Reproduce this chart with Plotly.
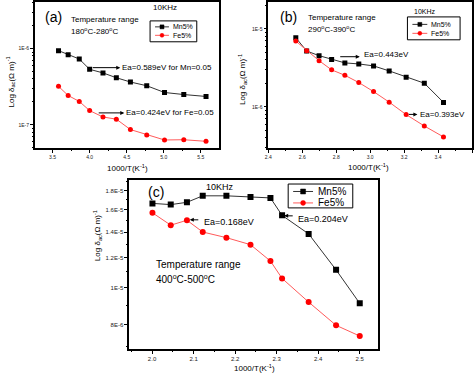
import plotly.graph_objects as go

# ---------------- data ----------------
a_x = [3.58, 3.71, 3.86, 4.00, 4.18, 4.36, 4.55, 4.77, 5.01, 5.27, 5.57]
a_mn = [9.4e-7, 8.3e-7, 7.3e-7, 5.35e-7, 4.8e-7, 4.15e-7, 3.65e-7, 3.26e-7, 2.66e-7, 2.5e-7, 2.36e-7]
a_fe = [3.2e-7, 2.43e-7, 2.03e-7, 1.54e-7, 1.27e-7, 1.19e-7, 8.7e-8, 7.4e-8, 6.35e-8, 6.4e-8, 6.1e-8]

b_x = [2.562, 2.626, 2.699, 2.773, 2.851, 2.933, 3.020, 3.112, 3.212, 3.319, 3.432]
b_mn = [7.68e-6, 5.2e-6, 4.53e-6, 4.06e-6, 3.66e-6, 3.55e-6, 3.35e-6, 2.89e-6, 2.40e-6, 2.01e-6, 1.14e-6]
b_fe = [6.97e-6, 5.25e-6, 3.91e-6, 2.98e-6, 2.54e-6, 2.05e-6, 1.57e-6, 1.15e-6, 7.96e-7, 5.69e-7, 4.12e-7]

c_x = [2.001, 2.045, 2.084, 2.122, 2.179, 2.237, 2.285, 2.313, 2.377, 2.443, 2.500]
c_mn = [1.664e-5, 1.652e-5, 1.675e-5, 1.742e-5, 1.742e-5, 1.73e-5, 1.72e-5, 1.548e-5, 1.384e-5, 1.114e-5, 9.1e-6]
c_fe = [1.572e-5, 1.459e-5, 1.503e-5, 1.40e-5, 1.353e-5, 1.297e-5, 1.175e-5, 1.058e-5, 9.17e-6, 7.97e-6, 7.47e-6]

series_names = ["Mn5%", "Fe5%"]
a_xticks = [3.5, 4.0, 4.5, 5.0, 5.5]
a_xticklabels = ["3.5", "4.0", "4.5", "5.0", "5.5"]
b_xticks = [2.4, 2.6, 2.8, 3.0, 3.2, 3.4, 3.6]
b_xticklabels = ["2.4", "2.6", "2.8", "3.0", "3.2", "3.4", "3.6"]
c_xticks = [2.0, 2.1, 2.2, 2.3, 2.4, 2.5]
c_xticklabels = ["2.0", "2.1", "2.2", "2.3", "2.4", "2.5"]
a_yticks = [1e-7, 1e-6]
a_yticklabels = ["1E-7", "1E-6"]
b_yticks = [1e-6, 1e-5]
b_yticklabels = ["1E-6", "1E-5"]
c_yticks = [8e-6, 1e-5, 1.2e-5, 1.4e-5, 1.6e-5, 1.8e-5]
c_yticklabels = ["8E-6", "1E-5", "1.2E-5", "1.4E-5", "1.6E-5", "1.8E-5"]

W, H = 474, 375
FONT = "Liberation Sans, Arial, sans-serif"
MN_LINE = "#333333"
MN_MARK = "#000000"
FE_LINE = "#ff5a5a"
FE_MARK = "#ff0000"


def px(x):
    return x / W


def py(y):
    return 1 - y / H


fig = go.Figure()

panels = [
    ("x", "y", a_x, a_mn, a_fe, 5),
    ("x2", "y2", b_x, b_mn, b_fe, 5),
    ("x3", "y3", c_x, c_mn, c_fe, 6),
]
for xa, ya, xs, mn, fe, ms in panels:
    fig.add_trace(go.Scatter(x=xs, y=mn, xaxis=xa, yaxis=ya, name=series_names[0],
                             mode="lines+markers", showlegend=False,
                             line=dict(color=MN_LINE, width=1),
                             marker=dict(symbol="square", size=ms, color=MN_MARK)))
    fig.add_trace(go.Scatter(x=xs, y=fe, xaxis=xa, yaxis=ya, name=series_names[1],
                             mode="lines+markers", showlegend=False,
                             line=dict(color=FE_LINE, width=1),
                             marker=dict(symbol="circle", size=ms, color=FE_MARK)))

axis_common = dict(showgrid=False, zeroline=False, showline=True, linecolor="black",
                   linewidth=1.5, mirror=True, ticks="outside", ticklen=3, tickwidth=1,
                   tickcolor="black", tickfont=dict(family=FONT, size=5, color="#222"))


def minor_lin(step):
    return dict(dtick=step, ticks="outside", ticklen=1.5, tickcolor="black", showgrid=False)


def log_minor(decades):
    vals = []
    for d in decades:
        for k in range(2, 10):
            vals.append(k * 10 ** d)
    return dict(tickmode="array", tickvals=vals, ticks="outside", ticklen=1.5,
                tickcolor="black", showgrid=False)


fig.update_layout(
    width=W, height=H,
    margin=dict(l=0, r=0, t=0, b=0),
    paper_bgcolor="white", plot_bgcolor="white",
    font=dict(family=FONT, color="black"),
    showlegend=False,
    xaxis=dict(axis_common, domain=[px(32), px(217)], range=[3.26, 5.74],
               tickvals=a_xticks, ticktext=a_xticklabels, anchor="y", minor=minor_lin(0.25)),
    yaxis=dict(axis_common, domain=[py(147), 1.0], type="log", range=[-7.305, -5.39],
               tickvals=a_yticks, ticktext=a_yticklabels, anchor="x",
               minor=log_minor([-8, -7, -6])),
    xaxis2=dict(axis_common, domain=[px(267), px(472)], range=[2.4, 3.6],
                tickvals=b_xticks, ticktext=b_xticklabels, anchor="y2", minor=minor_lin(0.1)),
    yaxis2=dict(axis_common, domain=[py(147), 1.0], type="log", range=[-6.53, -4.656],
                tickvals=b_yticks, ticktext=b_yticklabels, anchor="x2",
                minor=log_minor([-7, -6, -5])),
    xaxis3=dict(axis_common, domain=[px(127), px(377)], range=[1.945, 2.543],
                tickvals=c_xticks, ticktext=c_xticklabels, anchor="y3", minor=minor_lin(0.05),
                tickfont=dict(family=FONT, size=6, color="#222")),
    yaxis3=dict(axis_common, domain=[py(349), py(179)], type="log", range=[-5.161, -4.7176],
                tickvals=c_yticks, ticktext=c_yticklabels, anchor="x3",
                minor=dict(tickmode="array",
                           tickvals=[7e-6, 9e-6, 1.1e-5, 1.3e-5, 1.5e-5, 1.7e-5, 1.9e-5],
                           ticks="outside", ticklen=1.5, tickcolor="black", showgrid=False),
                tickfont=dict(family=FONT, size=6, color="#222")),
)

ylab = "Log δ<sub>ac</sub>(Ω m)<sup>-1</sup>"
xlab = "1000/T(K<sup>-1</sup>)"


def text(x, y, s, size=8, xanchor="left", angle=0):
    fig.add_annotation(x=px(x), y=py(y), xref="paper", yref="paper", text=s, showarrow=False,
                       xanchor=xanchor, yanchor="middle", textangle=angle,
                       font=dict(family=FONT, size=size, color="black"))


def arrow(x0, y0, x1, y1, color="black"):
    # arrow from (x0, y0) to head at (x1, y1), pixel coordinates
    fig.add_annotation(x=px(x1), y=py(y1), xref="paper", yref="paper",
                       ax=x0 - x1, ay=y0 - y1, axref="pixel", ayref="pixel",
                       text="", showarrow=True, arrowhead=2, arrowsize=0.8,
                       arrowwidth=1, arrowcolor=color)


def legend_box(x0, y0, x1, y1, rows, lx0, lx1, tx, size, msize):
    """Legend key drawn in paper space (pixel positions converted)."""
    fig.add_shape(type="rect", xref="paper", yref="paper",
                  x0=px(x0), x1=px(x1), y0=py(y0), y1=py(y1),
                  line=dict(color="black", width=1), fillcolor="white", layer="above")
    styles = [(MN_LINE, MN_MARK, "rect"), (FE_LINE, FE_MARK, "circle")]
    for (ry, name), (lc, mc, shp) in zip(zip(rows, series_names), styles):
        fig.add_shape(type="line", xref="paper", yref="paper",
                      x0=px(lx0), x1=px(lx1), y0=py(ry), y1=py(ry),
                      line=dict(color=lc, width=1), layer="above")
        cx = (lx0 + lx1) / 2
        h = msize / 2
        fig.add_shape(type=shp, xref="paper", yref="paper",
                      x0=px(cx - h), x1=px(cx + h), y0=py(ry - h), y1=py(ry + h),
                      line=dict(color=mc, width=0.5), fillcolor=mc, layer="above")
        text(tx, ry, name, size=size)


# axis titles
text(125, 167, xlab, size=8, xanchor="center")
text(8, 80, ylab, size=8, xanchor="center", angle=-90)
text(368, 166, xlab, size=8, xanchor="center")
text(241, 78, ylab, size=8, xanchor="center", angle=-90)
text(253, 368, xlab, size=8, xanchor="center")
text(95, 235, ylab, size=8, xanchor="center", angle=-90)

# panel (a)
text(40, 15, "(a)", size=14)
text(66, 18, "Temperature range", size=8)
text(66, 29, "180<sup>o</sup>C-280<sup>o</sup>C", size=8)
text(163, 6, "10KHz", size=8, xanchor="center")
legend_box(148, 19, 195, 40, [25, 33.5], 153, 167, 169, 7, 4)
arrow(89, 66, 118, 66)
text(118, 66, "Ea=0.589eV for Mn=0.05", size=8)
arrow(95, 111.5, 122, 111.5)
text(122, 111, "Ea=0.424eV for Fe=0.05", size=8)

# panel (b)
text(277, 15, "(b)", size=14)
text(305, 16, "Temperature range", size=8)
text(305, 27, "290<sup>o</sup>C-390<sup>o</sup>C", size=8)
text(425, 10, "10KHz", size=7, xanchor="center")
legend_box(407, 15, 460, 38, [22.5, 31.5], 412, 427, 429, 7, 4)
arrow(338, 55, 359, 55)
text(361, 53, "Ea=0.443eV", size=8)
arrow(407, 113, 417, 113)
text(418, 113, "Ea=0.393eV", size=8)

# panel (c)
text(144, 191, "(c)", size=14)
text(202, 186, "10KHz", size=9)
legend_box(287, 183, 352, 207, [190.5, 202], 292, 312, 315, 10, 5)
arrow(198, 219, 188, 219)
text(200, 221, "Ea=0.168eV", size=9)
arrow(293, 215, 283, 215)
text(295, 218, "Ea=0.204eV", size=9)
text(152, 264, "Temperature range", size=10)
text(152, 278, "400<sup>o</sup>C-500<sup>o</sup>C", size=10)

fig.write_html("out.html",
               config={"displayModeBar": False},
               post_script="document.body.style.margin='0px';document.body.style.padding='0px';")
